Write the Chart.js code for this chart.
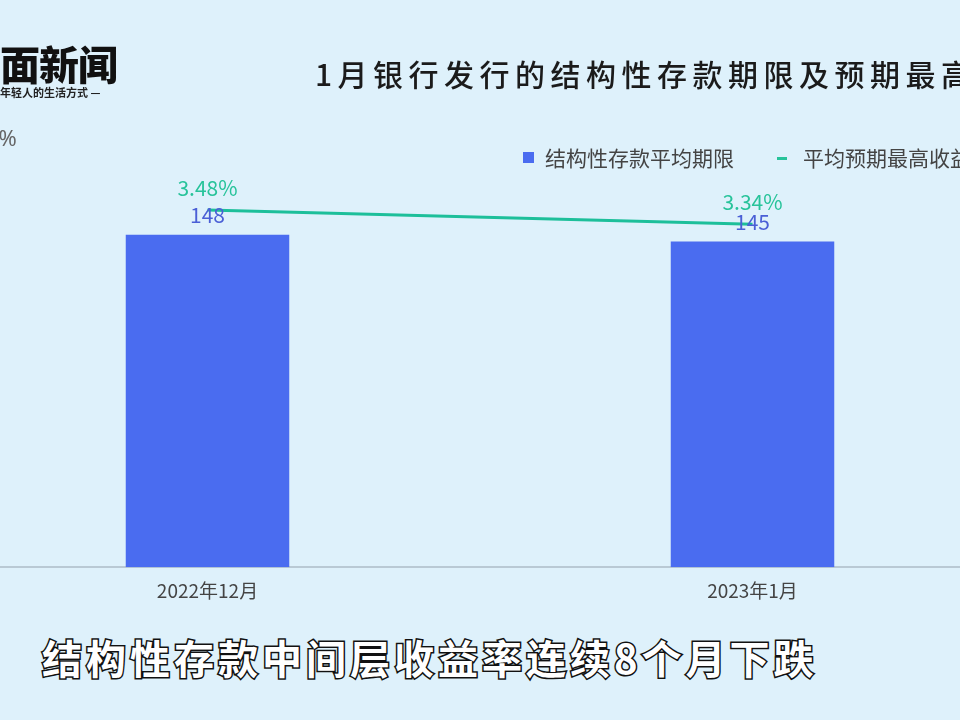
<!DOCTYPE html>
<html><head><meta charset="utf-8">
<script src="https://cdn.jsdelivr.net/npm/chart.js@4"></script>
<style>
body{margin:0;width:960px;height:720px;overflow:hidden;background:#def1fb;position:relative;font-family:"Noto Sans CJK SC","Noto Sans",sans-serif}
#wrap{position:absolute;left:-140px;top:0;width:1240px;height:606px}
.logo{position:absolute;left:0;top:34px;font:900 40px "Noto Sans CJK SC";color:#111;letter-spacing:-1px}
.slogan{position:absolute;left:0;top:84px;font:bold 11px "Noto Sans CJK SC";color:#222}
.cap{position:absolute;left:42px;top:628px;font:bold 40px "Noto Sans CJK SC";color:#fff;-webkit-text-stroke:3px #111;paint-order:stroke fill;letter-spacing:4px}
</style></head><body>
<div id="wrap"><canvas id="c"></canvas></div>
<div class="logo">面新闻</div>
<div class="slogan">年轻人的生活方式 —</div>
<div class="cap">结构性存款中间层收益率连续8个月下跌</div>
<script>
const labels = ["2022年12月", "2023年1月"]
const avgTerm = [148, 145]
const avgRate = [3.48, 3.34]
const OX = 140 // canvas offset

const overlay = {
  id: "overlay",
  afterDraw(chart){
    const ctx = chart.ctx
    const xs = chart.scales.x, y1 = chart.scales.y, y2 = chart.scales.y2
    ctx.save()
    ctx.textAlign = "center"
    ctx.textBaseline = "alphabetic"
    ctx.font = "21px 'Noto Sans CJK SC'"
    avgTerm.forEach((v,i)=>{
      ctx.fillStyle = "#4a5fd6"
      ctx.fillText(v, xs.getPixelForValue(i), y1.getPixelForValue(v)-12)
      ctx.fillStyle = "#27c39a"
      ctx.fillText(avgRate[i].toFixed(2)+"%", xs.getPixelForValue(i), y2.getPixelForValue(avgRate[i])-14)
    })
    // title
    ctx.textAlign = "left"
    ctx.fillStyle = "#1b1b1b"
    ctx.font = "500 30px 'Noto Sans CJK SC'"
    ctx.letterSpacing = "5.5px"
    ctx.fillText("1月银行发行的结构性存款期限及预期最高收益率", 315+OX, 86)
    ctx.letterSpacing = "0px"
    // legend
    ctx.font = "21px 'Noto Sans CJK SC'"
    ctx.fillStyle = "#4a6cf0"
    ctx.fillRect(523+OX, 152, 11, 11)
    ctx.fillStyle = "#444"
    ctx.fillText("结构性存款平均期限", 545+OX, 166)
    ctx.fillStyle = "#27c39a"
    ctx.fillRect(777+OX, 157, 10, 3)
    ctx.fillStyle = "#444"
    ctx.fillText("平均预期最高收益率", 803+OX, 166)
    ctx.fillStyle = "#666"
    ctx.font = "22px 'Noto Sans'"
    ctx.fillText("5%", -14+OX, 146)
    ctx.restore()
  }
}

new Chart("c", {
  data: {
    labels: labels,
    datasets: [{
      type: "line", label: "平均预期最高收益率", data: avgRate, yAxisID: "y2",
      borderColor: "#1dbf9a", borderWidth: 3, pointRadius: 0, tension: 0
    },{
      type: "bar", label: "结构性存款平均期限", data: avgTerm, yAxisID: "y",
      backgroundColor: "#4a6cf0", barPercentage: 0.3, categoryPercentage: 1
    }]
  },
  options: {
    responsive: true, maintainAspectRatio: false, animation: false,
    layout: { padding: { left: 75, right: 75, top: 118, bottom: 0 } },
    plugins: { legend: { display: false }, tooltip: { enabled: false } },
    scales: {
      x: { grid: { display: false }, border: { color: "#b9c9d4", width: 2 },
        ticks: { color: "#444", font: { size: 19, family: "Noto Sans CJK SC" }, padding: 4 } },
      y: { display: false, min: 0, max: 200 },
      y2: { display: false, min: 0, max: 4.375 }
    }
  },
  plugins: [overlay]
})
</script>
</body></html>
